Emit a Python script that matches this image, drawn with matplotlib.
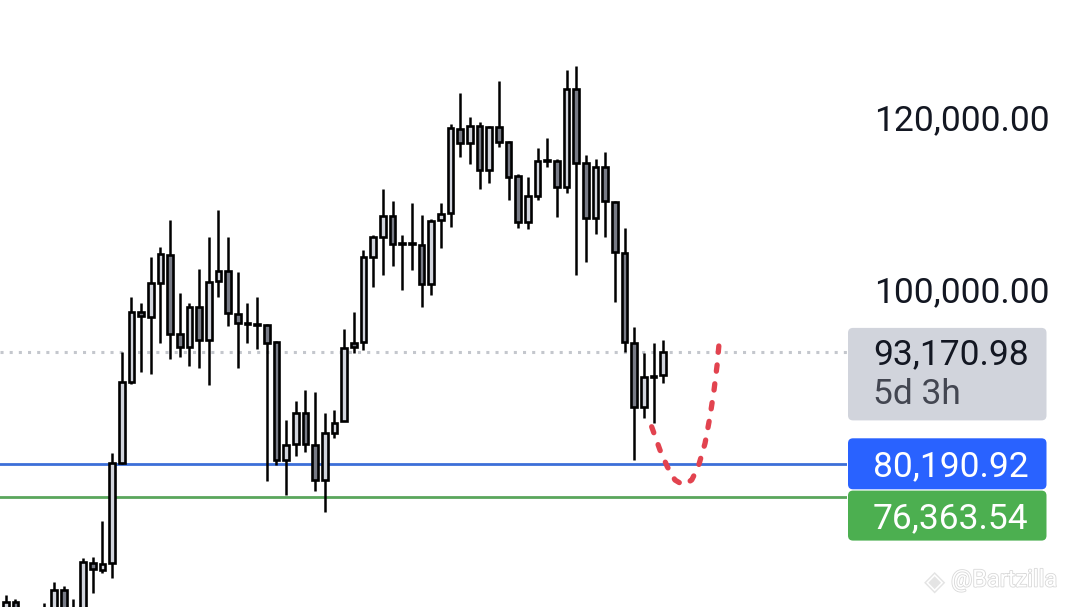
"""
BTC weekly candles with support levels and price labels
"""
import matplotlib.pyplot as plt
import matplotlib.patheffects as pe
from matplotlib.patches import FancyBboxPatch
from matplotlib.transforms import ScaledTranslation
import numpy as np

plt.rcParams["font.family"] = ["Roboto", "DejaVu Sans"]

# weekly OHLC in thousands of USD (oldest first)
opens = [
    58.4, 64.2, 57.3, 54.8, 60.0, 63.4, 65.6, 62.9, 62.8, 68.65, 67.87,
    68.68, 80.28, 89.71, 97.80, 97.25, 101.19, 104.41, 95.24, 93.70, 98.34,
    94.55, 101.43, 102.59, 97.56, 96.58, 96.29, 96.29, 94.28, 80.63, 82.48,
    86.05, 82.37, 78.31, 83.79, 85.19, 94.23, 94.28, 104.14, 106.53, 108.93,
    105.80, 105.77, 105.57, 101.04, 108.47, 109.25, 118.99, 117.43, 119.37, 114.27,
    119.29, 117.55, 113.61, 108.27, 111.25, 115.39, 115.35, 112.26, 123.63, 115.05,
    108.70, 114.58, 110.59, 104.67, 94.23, 86.81, 90.37, 90.49,
]
closes = [
    64.2, 57.3, 54.8, 60.0, 63.4, 65.6, 62.9, 62.8, 68.8, 67.95, 68.56,
    80.28, 89.71, 97.83, 97.33, 101.13, 104.52, 95.24, 93.70, 98.34, 94.55,
    101.31, 102.59, 97.71, 96.55, 96.46, 96.40, 94.23, 80.63, 82.37, 86.05,
    82.48, 78.31, 83.73, 84.95, 93.59, 93.77, 104.14, 106.50, 108.93, 105.68,
    105.72, 105.68, 101.04, 108.39, 109.16, 119.11, 117.37, 119.37, 114.27, 119.29,
    117.55, 113.49, 108.27, 111.25, 115.35, 115.28, 112.26, 123.63, 115.11, 108.67,
    114.58, 110.71, 104.79, 94.35, 86.81, 90.29, 90.26, 93.17,
]
highs = [
    65.0, 64.5, 59.8, 60.6, 64.1, 66.5, 66.0, 64.5, 69.3, 69.34, 73.59,
    81.44, 93.19, 99.57, 98.84, 104.21, 105.30, 108.47, 99.97, 98.87, 102.75,
    106.46, 109.63, 106.46, 102.47, 98.81, 99.50, 96.46, 94.47, 85.27, 87.51,
    88.75, 88.55, 86.05, 86.43, 95.79, 97.83, 104.99, 106.73, 112.03, 110.71,
    106.73, 110.47, 109.05, 108.55, 110.47, 119.60, 123.23, 120.38, 119.87, 119.37,
    124.59, 117.66, 113.80, 113.49, 116.79, 117.95, 115.51, 125.87, 126.33, 116.01,
    115.51, 116.39, 110.71, 107.51, 96.02, 93.07, 94.23, 94.55,
]
lows = [
    57.8, 57.2, 52.6, 54.6, 57.5, 62.7, 59.8, 58.9, 62.0, 65.17, 67.55,
    66.94, 80.16, 89.44, 90.84, 90.60, 94.23, 92.31, 92.54, 91.57, 91.27,
    89.33, 99.57, 96.17, 91.27, 94.17, 93.47, 78.23, 80.05, 76.57, 81.09,
    81.59, 77.07, 74.63, 83.15, 85.15, 93.00, 93.39, 100.73, 102.09, 103.13,
    100.35, 102.67, 98.34, 99.77, 105.19, 107.69, 115.81, 114.96, 112.03, 112.79,
    116.97, 110.79, 107.51, 107.39, 110.79, 114.58, 108.78, 111.63, 102.09, 103.63,
    106.84, 106.46, 98.99, 93.19, 80.63, 85.47, 84.95, 89.53,
]

last_price = 93170.98
countdown = "5d 3h"
level_blue = 80190.92
level_green = 76363.54
price_ticks = [100000, 120000]

# hand drawn projection (candle index, thousands USD)
curve_x = [66.8, 67.66, 68.42, 69.21, 70.07, 70.94, 71.62, 72.32, 72.83, 73.25, 73.59, 73.80]
curve_y = [84.49, 81.79, 79.85, 78.31, 77.73, 78.31, 79.85, 82.57, 85.65, 88.75, 91.85, 94.55]

UP_FILL = "#d1d4dc"
DOWN_FILL = "#787b86"
EDGE = "#000000"
FS = 25.5

W, H = 1080, 607
fig = plt.figure(figsize=(W / 100, H / 100), dpi=100)
fig.patch.set_facecolor("white")

ax = fig.add_axes([0, 0, 847 / W, 1])
ax.set_xlim(-0.59, 87.0)
ax.set_ylim(63580, 133990)
upp = (133990 - 63580) / H  # price units per pixel

o = np.array(opens) * 1000
c = np.array(closes) * 1000
hi = np.array(highs) * 1000
lo = np.array(lows) * 1000
x = np.arange(len(o))

ax.vlines(x, lo, hi, color=EDGE, linewidth=1.8, zorder=2)
bottoms = np.minimum(o, c)
heights = np.maximum(np.abs(c - o), 120)
fills = [UP_FILL if cc >= oo else DOWN_FILL for oo, cc in zip(o, c)]
ax.bar(x, heights, bottom=bottoms, width=0.58, color=fills,
       edgecolor=EDGE, linewidth=1.9, zorder=3)

ax.axhline(last_price, color="#c4c7cd", linewidth=2.2, linestyle=(0, (1, 2)), zorder=1)
ax.axhline(level_blue, color="#3c6fd8", linewidth=2.0, zorder=1)
ax.axhline(level_green, color="#5aa65c", linewidth=2.0, zorder=1)

ax.plot(curve_x, np.array(curve_y) * 1000, color="#e2434f", linewidth=3.8,
        linestyle=(0, (1.2, 2.4)), dash_capstyle="round", zorder=4)

for s in ax.spines.values():
    s.set_visible(False)
ax.set_xticks([])
ax.yaxis.tick_right()
ax.set_yticks(price_ticks)
ax.set_yticklabels([f"{v:,.2f}" for v in price_ticks])
ax.tick_params(axis="y", length=0, pad=19.5, labelsize=FS, labelcolor="#131722")
shift = ScaledTranslation(0, 0.035, fig.dpi_scale_trans)
for t in ax.get_yticklabels():
    t.set_transform(t.get_transform() + shift)

# price labels on the right scale
lab = fig.add_axes([0, 0, 1, 1])
lab.set_xlim(0, W)
lab.set_ylim(ax.get_ylim())
lab.axis("off")

cap = 12.6 * upp  # half cap height of the label digits
tx = 873


def label_box(top, bottom, color):
    lab.add_patch(FancyBboxPatch(
        (848, bottom), 198.5, top - bottom,
        boxstyle="round,pad=0,rounding_size=5", mutation_aspect=upp,
        facecolor=color, edgecolor="none"))


label_box(last_price + 24 * upp, last_price - 68.5 * upp, "#d1d4dc")
lab.text(tx, last_price - cap, f"{last_price:,.2f}", fontsize=FS,
         color="#131722", va="baseline", ha="left")
lab.text(tx, last_price - 40 * upp - cap, countdown, fontsize=FS,
         color="#434651", va="baseline", ha="left")

label_box(level_blue + 25.5 * upp, level_blue - 25.5 * upp, "#2962ff")
lab.text(tx, level_blue - cap, f"{level_blue:,.2f}", fontsize=FS,
         color="white", va="baseline", ha="left")

green_top = level_blue - 26.8 * upp
green_mid = green_top - 25 * upp
label_box(green_top, green_top - 50 * upp, "#4caf50")
lab.text(tx, green_mid - cap, f"{level_green:,.2f}", fontsize=FS,
         color="white", va="baseline", ha="left")

# watermark
fig.text(935 / W, 1 - 582 / H, "◈", fontsize=20, color="#e4e4e4",
         ha="center", va="center", family="DejaVu Sans")
fig.text(951 / W, 1 - 580 / H, "@Bartzilla", fontsize=17, color="white",
         ha="left", va="center",
         path_effects=[pe.withStroke(linewidth=1.2, foreground="#d8d8d8")])

fig.savefig("out.png", dpi=100, facecolor="white")
